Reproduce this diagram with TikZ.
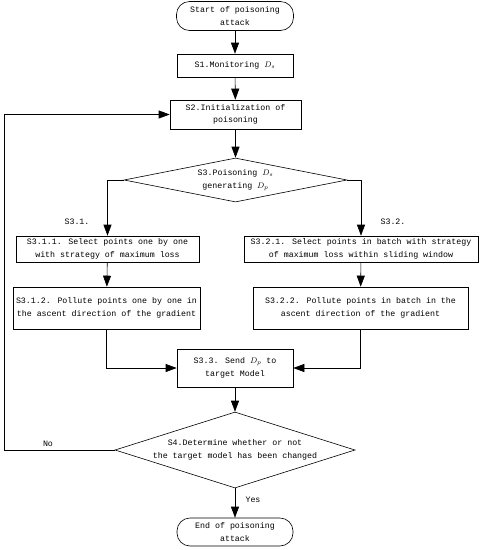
\documentclass[tikz,border=0pt]{standalone}
\usepackage{fontspec}
\setmainfont{Liberation Mono}
\usetikzlibrary{shapes.geometric,arrows.meta}

\begin{document}
\begin{tikzpicture}[x=1pt,y=-1pt, line width=0.6pt,
    every node/.style={font=\fontsize{8.3}{12.5}\selectfont, align=center, inner sep=1pt},
    box/.style={draw, rectangle},
    term/.style={draw, rectangle, rounded corners=13pt},
    decision/.style={draw, diamond, inner sep=0pt},
    arr/.style={-{Triangle[width=8pt,length=11pt]}}]
    \useasboundingbox (0,0) rectangle (480,550);

    % steps
    \node[term, minimum width=117pt, minimum height=29pt] (start) at (235,16) {Start of poisoning\\attack};
    \node[box, minimum width=116pt, minimum height=23pt] (s1) at (235,65.5) {S1.Monitoring $D_s$};
    \node[box, minimum width=131pt, minimum height=29pt] (s2) at (235.5,114.5) {S2.Initialization of\\poisoning};
    \node[decision, aspect=5, minimum width=223pt, minimum height=44pt] (s3) at (235.5,180) {S3.Poisoning $D_s$\\generating $D_p$};

    \node[box, minimum width=183pt, minimum height=26pt] (s311) at (107.5,249) {S3.1.1. Select points one by one\\with strategy of maximum loss};
    \node[box, minimum width=187pt, minimum height=42pt] (s312) at (106.5,308) {S3.1.2. Pollute points one by one in\\the ascent direction of the gradient};
    \node[box, minimum width=234pt, minimum height=26pt] (s321) at (361,249) {S3.2.1. Select points in batch with strategy\\of maximum loss within sliding window};
    \node[box, minimum width=215pt, minimum height=42pt] (s322) at (360.5,308) {S3.2.2. Pollute points in batch in the\\ascent direction of the gradient};

    \node[box, minimum width=116pt, minimum height=38pt] (s33) at (235,368) {S3.3. Send $D_p$ to\\target Model};
    \node[decision, aspect=3.15, minimum width=240pt, minimum height=76pt] (s4) at (235,450) {S4.Determine whether or not\\the target model has been changed};
    \node[term, minimum width=116pt, minimum height=28pt] (end) at (235,532) {End of poisoning\\attack};

    % connectors
    \draw[arr] (start) -- (s1);
    \draw[arr] (s1) -- (s2);
    \draw[arr] (s2) -- (s3);
    \draw[arr] (s3.west) -| (s311.north);
    \draw[arr] (s3.east) -| (s321.north);
    \node (l31) at (77,222) {S3.1.};
    \node (l32) at (393,222) {S3.2.};
    \draw[arr] (s311) -- (s312);
    \draw[arr] (s321) -- (s322);
    \draw[arr] (s312.south) |- (s33.west);
    \draw[arr] (s322.south) |- (s33.east);
    \draw[arr] (s33) -- (s4);
    \draw[arr] (s4.south) -- (end.north);
    \node (yes) at (253,500) {Yes};

    \coordinate (back) at (4,450);
    \draw[arr] (s4.west) -- (back) |- (s2.west);
    \node (no) at (48,444) {No};
\end{tikzpicture}
\end{document}
